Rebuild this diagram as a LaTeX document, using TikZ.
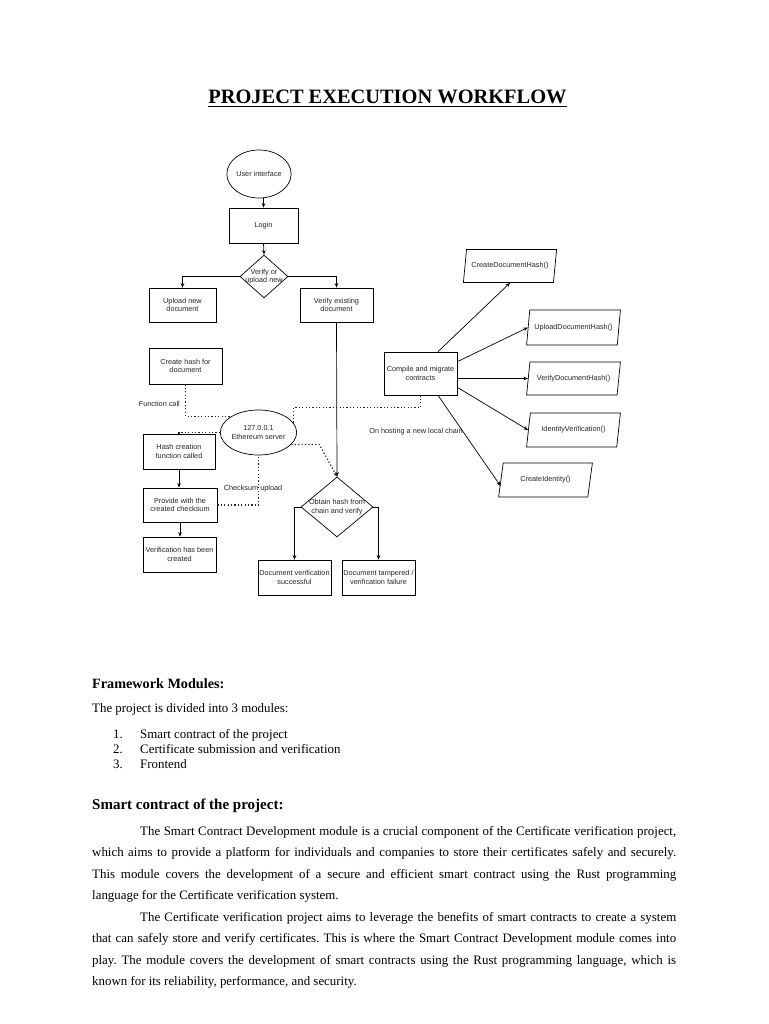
\documentclass[tikz,border=0pt]{standalone}
\usepackage{fontspec}
\setmainfont{Liberation Serif}
\newfontfamily\diafont{Liberation Sans}
\usetikzlibrary{shapes.geometric,arrows.meta}
\newcommand{\jfull}[1]{\makebox[584pt][s]{#1}}
\newcommand{\jind}[1]{\makebox[536pt][s]{#1}}
\frenchspacing
\begin{document}
\begin{tikzpicture}[x=1pt,y=-1pt,
  dtext/.style={font=\diafont\fontsize{7.3}{8.7}\selectfont, align=center, text=black!85},
  fbox/.style={dtext, draw, line width=0.7pt, rectangle, inner sep=1pt},
  oval/.style={dtext, draw, line width=0.7pt, ellipse, inner sep=0pt},
  dia/.style={draw, line width=0.7pt, diamond, inner sep=0pt},
  para/.style={trapezium, trapezium left angle=72, trapezium right angle=108,
    trapezium stretches=true, draw, line width=0.7pt, dtext,
    minimum width=94, minimum height=33, inner sep=1pt},
  arr/.style={line width=0.7pt, -{Stealth[length=4.5pt,width=3.6pt]}},
  dotline/.style={line width=1.2pt, dash pattern=on 1.2pt off 2.2pt, black!85},
  body/.style={anchor=base west, inner sep=0pt, font=\fontsize{12.9}{15}\selectfont},
]
\fill[white] (0,0) rectangle (768,1024);
\useasboundingbox (0,0) rectangle (768,1024);

% title
\node[anchor=base, inner sep=0pt, font=\bfseries\fontsize{20.4}{24}\selectfont] (title) at (387.5,104) {\underline{PROJECT EXECUTION WORKFLOW}};

% main flow
\node[oval, minimum width=60, minimum height=48] (ui) at (259,174) {User interface};
\node[fbox, minimum width=69, minimum height=35] (login) at (263.5,225.5) {Login};
\node[dia, minimum width=48, minimum height=43,
  label={[dtext]center:{Verify or\\upload new}}] (d1) at (264,276.5) {};
\node[fbox, minimum width=67, minimum height=34] (up) at (182.5,305) {Upload new\\document};
\node[fbox, minimum width=73, minimum height=34] (ve) at (336.5,305) {Verify existing\\document};

\draw[arr] (ui.south -| login.north) -- (login.north);
\draw[arr] (login.south) -- (d1.north);
\draw[arr] (d1.west) -| (up.north);
\draw[arr] (d1.east) -| (ve.north);

% verification
\node[dia, minimum width=72, minimum height=60,
  label={[dtext]center:{Obtain hash from\\chain and verify}}] (d2) at (337,507) {};
\node[fbox, minimum width=73, minimum height=35] (ds) at (294.5,577.5) {Document verification\\successful};
\node[fbox, minimum width=73, minimum height=35] (dt) at (378.5,577.5) {Document tampered /\\verification failure};
\draw[arr] (ve.south) -- (d2.north);
\draw[arr] (d2.west) -| (ds.north);
\draw[arr] (d2.east) -| (dt.north);

% left column
\node[fbox, minimum width=73, minimum height=36] (ch) at (185.5,366) {Create hash for\\document};
\node[oval, minimum width=73, minimum height=45] (eth) at (258.5,432.5) {127.0.0.1\\Ethereum server};
\node[fbox, minimum width=72, minimum height=35] (hc) at (179,451.5) {Hash creation\\function called};
\node[fbox, minimum width=74, minimum height=34] (pc) at (180,505) {Provide with the\\created checksum};
\node[fbox, minimum width=73, minimum height=35] (vc) at (179.5,554.5) {Verification has been\\created};
\draw[arr] (hc.south) -- (hc.south |- pc.north);
\draw[arr] (pc.south) -- (pc.south |- vc.north);

\draw[dotline] (ch.south) |- (eth.north west);
\node[dtext, anchor=east, inner sep=0pt] (fc) at (180,404) {Function call};
\draw[dotline] (eth.west) -| (hc.north);
\draw[dotline] (pc.east) -| (eth.south);
\node[dtext, inner sep=0pt] (cu) at (253,489) {Checksum upload};
\draw[dotline, -{Stealth[length=4.5pt,width=3.6pt]}] (eth.-20) -- ++(28,0) -- (d2.north);

% contracts
\node[fbox, minimum width=73, minimum height=43] (cm) at (420.5,373.5) {Compile and migrate\\contracts};
\draw[dotline] (cm.south) -- ++(0,12) -| (eth.15);
\node[dtext, inner sep=0pt] (oh) at (416,432) {On hosting a new local chain};

\node[para] (p1) at (510,266) {CreateDocumentHash()};
\node[para, minimum height=35] (p2) at (573.5,327.5) {UploadDocumentHash()};
\node[para] (p3) at (573.5,378.5) {VerifyDocumentHash()};
\node[para, minimum height=34] (p4) at (573.5,430) {IdentityVerification()};
\node[para, minimum height=34] (p5) at (545.5,480) {CreateIdentity()};

\draw[arr] ([xshift=17.5pt]cm.north) -- (p1.south);
\draw[arr] ([yshift=-10pt]cm.north east) -- (p2.west);
\draw[arr] (cm.east |- p3.west) -- (p3.west);
\draw[arr] ([yshift=8pt]cm.south east) -- (p4.west);
\draw[arr] ([xshift=17.5pt]cm.south) -- ([yshift=-6pt]p5.west);

% text
\node[body, font=\bfseries\fontsize{14.2}{17}\selectfont] (fm) at (92,688) {Framework Modules:};
\node[body] (intro) at (92,712) {The project is divided into 3 modules:};
\node[body] (n1) at (113,738) {1.};
\node[body] (t1) at (140,738) {Smart contract of the project};
\node[body] (n2) at (113,753) {2.};
\node[body] (t2) at (140,753) {Certificate submission and verification};
\node[body] (n3) at (113,768) {3.};
\node[body] (t3) at (140,768) {Frontend};
\node[body, font=\bfseries\fontsize{15}{18}\selectfont] (sc) at (92,809) {Smart contract of the project:};

\node[body] (l1) at (140,835) {\jind{The Smart Contract Development module is a crucial component of the Certificate verification project,}};
\node[body] (l2) at (92,856.5) {\jfull{which aims to provide a platform for individuals and companies to store their certificates safely and securely.}};
\node[body] (l3) at (92,878) {\jfull{This module covers the development of a secure and efficient smart contract using the Rust programming}};
\node[body] (l4) at (92,899.5) {language for the Certificate verification system.};
\node[body] (l5) at (140,921) {\jind{The Certificate verification project aims to leverage the benefits of smart contracts to create a system}};
\node[body] (l6) at (92,942.5) {\jfull{that can safely store and verify certificates. This is where the Smart Contract Development module comes into}};
\node[body] (l7) at (92,964) {\jfull{play. The module covers the development of smart contracts using the Rust programming language, which is}};
\node[body] (l8) at (92,985.5) {known for its reliability, performance, and security.};
\end{tikzpicture}
\end{document}
